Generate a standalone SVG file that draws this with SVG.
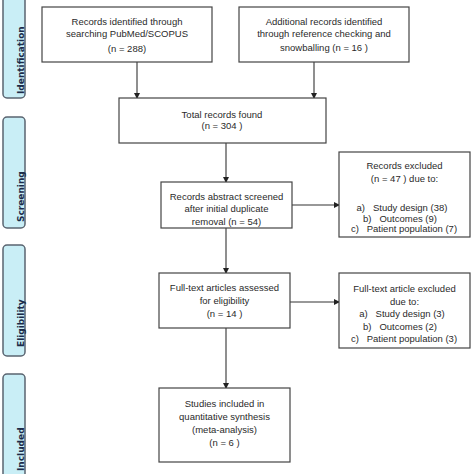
<svg xmlns="http://www.w3.org/2000/svg" width="474" height="474" viewBox="0 0 474 474">
<defs>
<style>
.box{fill:#fff;stroke:#444;stroke-width:1.2}
.side{fill:#c9eef6;stroke:#5a6470;stroke-width:1.5}
.t{font-family:"Liberation Sans",Arial,sans-serif;font-size:9.5px;fill:#2a2a2a;text-anchor:middle}
.s{font-family:"DejaVu Sans",sans-serif;font-size:9px;font-weight:bold;fill:#1c2b48}
.c{stroke:#333;stroke-width:1.1;fill:none}
</style>
<marker id="ah" markerWidth="6" markerHeight="6" refX="5" refY="3" orient="auto" markerUnits="userSpaceOnUse">
<path d="M0,0 L6,3 L0,6 Z" fill="#222"/>
</marker>
</defs>
<rect width="474" height="474" fill="#fff"/>
<g id="side-identification"><rect class="side" x="3" y="-8" width="22" height="106" rx="4"/><text class="s" transform="translate(24,94) rotate(-90)">Identification</text></g>
<g id="side-screening"><rect class="side" x="3" y="117" width="22" height="111" rx="4"/><text class="s" transform="translate(24,222) rotate(-90)">Screening</text></g>
<g id="side-eligibility"><rect class="side" x="3" y="245" width="22" height="111" rx="4"/><text class="s" transform="translate(24,347) rotate(-90)">Eligibility</text></g>
<g id="side-included"><rect class="side" x="3" y="374" width="22" height="110" rx="4"/><text class="s" transform="translate(24,471) rotate(-90)">Included</text></g>
<g id="connectors">
<line class="c" x1="137" y1="62" x2="137" y2="98" marker-end="url(#ah)"/>
<line class="c" x1="314" y1="62" x2="314" y2="98" marker-end="url(#ah)"/>
<line class="c" x1="226" y1="143" x2="226" y2="182" marker-end="url(#ah)"/>
<line class="c" x1="292" y1="205" x2="339" y2="205" marker-end="url(#ah)"/>
<line class="c" x1="226" y1="228" x2="226" y2="273" marker-end="url(#ah)"/>
<line class="c" x1="290" y1="302" x2="339" y2="302" marker-end="url(#ah)"/>
<line class="c" x1="226" y1="328" x2="226" y2="388" marker-end="url(#ah)"/>
</g>
<g id="records-db"><rect class="box" x="42" y="7" width="170" height="55"/>
<text class="t" x="127" y="24.5">Records identified through</text>
<text class="t" x="127" y="37">searching PubMed/SCOPUS</text>
<text class="t" x="127" y="51.5">(n = 288)</text></g>
<g id="records-additional"><rect class="box" x="239" y="7" width="170" height="55"/>
<text class="t" x="324" y="24.5">Additional records identified</text>
<text class="t" x="324" y="37">through reference checking and</text>
<text class="t" x="324" y="50.5">snowballing (n = 16 )</text></g>
<g id="total"><rect class="box" x="119" y="98" width="207" height="45"/>
<text class="t" x="222" y="117.5">Total records found</text>
<text class="t" x="222" y="129">(n = 304 )</text></g>
<g id="screened"><rect class="box" x="161" y="182" width="131" height="46"/>
<text class="t" x="226.5" y="199.5">Records abstract screened</text>
<text class="t" x="226.5" y="211.5">after initial duplicate</text>
<text class="t" x="226.5" y="225">removal (n = 54)</text></g>
<g id="excluded1"><rect class="box" x="339" y="152" width="131" height="85"/>
<text class="t" x="404.5" y="168.5">Records excluded</text>
<text class="t" x="404.5" y="181.5">(n = 47 ) due to:</text>
<text class="t" x="402" y="210.5" xml:space="preserve">a)   Study design (38)</text>
<text class="t" x="400" y="221.5" xml:space="preserve">b)   Outcomes (9)</text>
<text class="t" x="404" y="231.5" xml:space="preserve">c)   Patient population (7)</text></g>
<g id="fulltext"><rect class="box" x="159" y="273" width="131" height="55"/>
<text class="t" x="224.5" y="290.5">Full-text articles assessed</text>
<text class="t" x="224.5" y="304">for eligibility</text>
<text class="t" x="224.5" y="316.5">(n = 14 )</text></g>
<g id="excluded2"><rect class="box" x="339" y="273" width="131" height="75"/>
<text class="t" x="404.5" y="291.5">Full-text article excluded</text>
<text class="t" x="404.5" y="305">due to:</text>
<text class="t" x="402" y="316.5" xml:space="preserve">a)   Study design (3)</text>
<text class="t" x="400" y="330" xml:space="preserve">b)   Outcomes (2)</text>
<text class="t" x="404" y="341.5" xml:space="preserve">c)   Patient population (3)</text></g>
<g id="included"><rect class="box" x="159" y="388" width="131" height="74"/>
<text class="t" x="224.5" y="406.5">Studies included in</text>
<text class="t" x="224.5" y="419.5">quantitative synthesis</text>
<text class="t" x="224.5" y="432.5">(meta-analysis)</text>
<text class="t" x="224.5" y="445.5">(n = 6 )</text></g>
</svg>
